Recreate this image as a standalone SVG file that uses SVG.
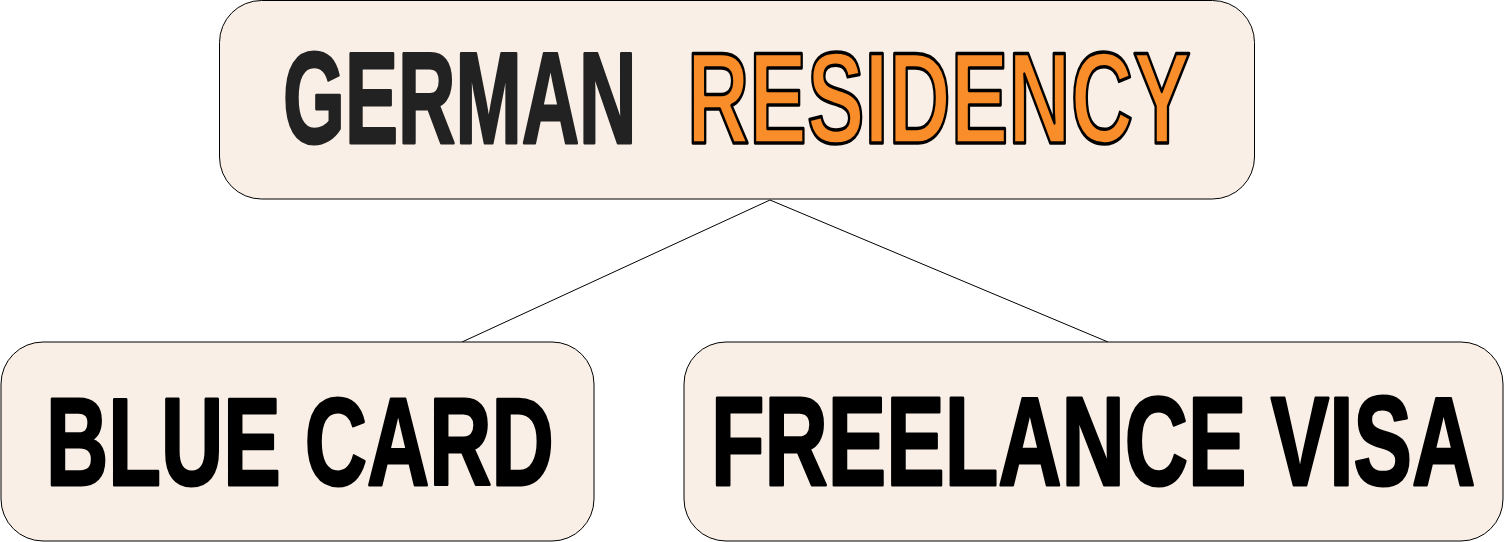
<svg xmlns="http://www.w3.org/2000/svg" width="1504" height="542" viewBox="0 0 1504 542">
<style>
.box{fill:#F9EFE6;stroke:#000;stroke-width:1}
.lbl{font-family:"Liberation Sans","DejaVu Sans",sans-serif;font-weight:bold;stroke-linejoin:round}
.conn{stroke:#000;stroke-width:1;fill:none}
</style>
<rect width="1504" height="542" fill="#fff"/>
<g id="connectors">
<line class="conn" x1="770" y1="200" x2="462" y2="342"/>
<line class="conn" x1="770" y1="200" x2="1108" y2="342"/>
</g>
<g id="german-residency">
<rect class="box" x="219.5" y="0.5" width="1035" height="198.5" rx="42"/>
<text class="lbl" transform="translate(283,143) scale(0.612,1)" font-size="130" fill="#222" stroke="#222" stroke-width="3">GERMAN</text>
<text class="lbl" transform="translate(687,143) scale(0.664,1)" font-size="130" fill="#F98D29" stroke="#000" stroke-width="3.5">RESIDENCY</text>
</g>
<g id="blue-card">
<rect class="box" x="1" y="342" width="593" height="199" rx="42"/>
<text class="lbl" transform="translate(46,485) scale(0.69,1)" font-size="125" fill="#000" stroke="#000" stroke-width="3">BLUE CARD</text>
</g>
<g id="freelance-visa">
<rect class="box" x="684" y="342" width="819" height="199" rx="42"/>
<text class="lbl" transform="translate(711,485) scale(0.69,1)" font-size="127" fill="#000" stroke="#000" stroke-width="3">FREELANCE VISA</text>
</g>
</svg>
